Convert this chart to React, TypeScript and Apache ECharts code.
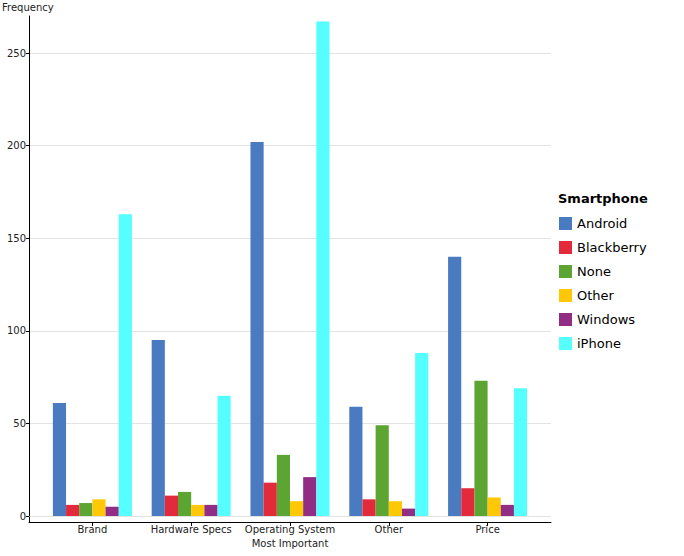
import React, { useEffect, useRef } from "react";
import * as echarts from "echarts";

const categories = ["Brand", "Hardware Specs", "Operating System", "Other", "Price"];
const seriesNames = ["Android", "Blackberry", "None", "Other", "Windows", "iPhone"];
const android = [61, 95, 202, 59, 140];
const blackberry = [6, 11, 18, 9, 15];
const none = [7, 13, 33, 49, 73];
const other = [9, 6, 8, 8, 10];
const windows = [5, 6, 21, 4, 6];
const iphone = [163, 65, 267, 88, 69];
const seriesValues = [android, blackberry, none, other, windows, iphone];
const colors = ["#4A7BC1", "#E32A3A", "#5DA533", "#FFC807", "#912D84", "#55FFFF"];

const FONT = "DejaVu Sans";

export default function App() {
  const ref = useRef<HTMLDivElement>(null);
  useEffect(() => {
    document.body.style.margin = "0";
    if (!ref.current) return;
    const chart = echarts.init(ref.current, undefined, { renderer: "svg" });
    chart.setOption({
      animation: false,
      backgroundColor: "#ffffff",
      textStyle: { fontFamily: FONT },
      grid: [
        { left: 43, right: 147, top: 16, bottom: 40 },
        { left: 29, right: 133, top: 16, bottom: 40 },
      ],
      xAxis: [
        {
          type: "category",
          gridIndex: 0,
          data: categories,
          offset: 6,
          axisLine: { show: false, onZero: false },
          axisTick: { show: true, alignWithLabel: true, length: 4, lineStyle: { color: "#000" } },
          axisLabel: { fontSize: 10, color: "#222", margin: 2, fontFamily: FONT, interval: 0 },
          name: "Most Important",
          nameLocation: "middle",
          nameGap: 15,
          nameTextStyle: { fontSize: 10, color: "#222", fontFamily: FONT },
          splitLine: { show: false },
        },
        {
          type: "value",
          gridIndex: 1,
          min: 0,
          max: 1,
          offset: 6,
          axisLine: { show: true, onZero: false, lineStyle: { color: "#000", width: 1 } },
          axisTick: { show: false },
          axisLabel: { show: false },
          splitLine: { show: false },
        },
      ],
      yAxis: [
        {
          type: "value",
          gridIndex: 0,
          min: 0,
          max: 270,
          show: false,
          splitLine: { show: false },
        },
        {
          type: "value",
          gridIndex: 1,
          min: 0,
          max: 270,
          interval: 50,
          axisLine: { show: true, onZero: false, lineStyle: { color: "#000", width: 1 } },
          axisTick: { show: true, length: 3, lineStyle: { color: "#000" } },
          axisLabel: {
            fontSize: 10,
            color: "#222",
            margin: 3,
            fontFamily: FONT,
            showMaxLabel: false,
          },
          splitLine: {
            show: true,
            showMaxLine: false,
            lineStyle: { color: "#e3e3e3", width: 1 },
          },
        },
      ],
      legend: {
        orient: "vertical",
        left: 554,
        top: 212,
        itemWidth: 13,
        itemHeight: 13,
        itemGap: 11,
        icon: "rect",
        data: seriesNames,
        textStyle: { fontSize: 13, color: "#000", fontFamily: FONT },
      },
      graphic: [
        {
          type: "text",
          left: 2,
          top: 2,
          style: { text: "Frequency", fontSize: 10, fill: "#222", fontFamily: FONT },
        },
        {
          type: "text",
          left: 558,
          top: 192,
          style: { text: "Smartphone", fontSize: 13, fontWeight: "bold", fill: "#000", fontFamily: FONT },
        },
        {
          type: "line",
          shape: { x1: 29.5, y1: 516, x2: 29.5, y2: 522.5 },
          style: { stroke: "#000", lineWidth: 1 },
        },
      ],
      series: seriesNames.map((name, i) => ({
        name,
        type: "bar",
        xAxisIndex: 0,
        yAxisIndex: 0,
        data: seriesValues[i],
        barGap: "0%",
        barCategoryGap: "20%",
        itemStyle: { color: colors[i] },
      })),
    });
    return () => chart.dispose();
  }, []);
  return <div ref={ref} style={{ width: 684, height: 556 }} />;
}
